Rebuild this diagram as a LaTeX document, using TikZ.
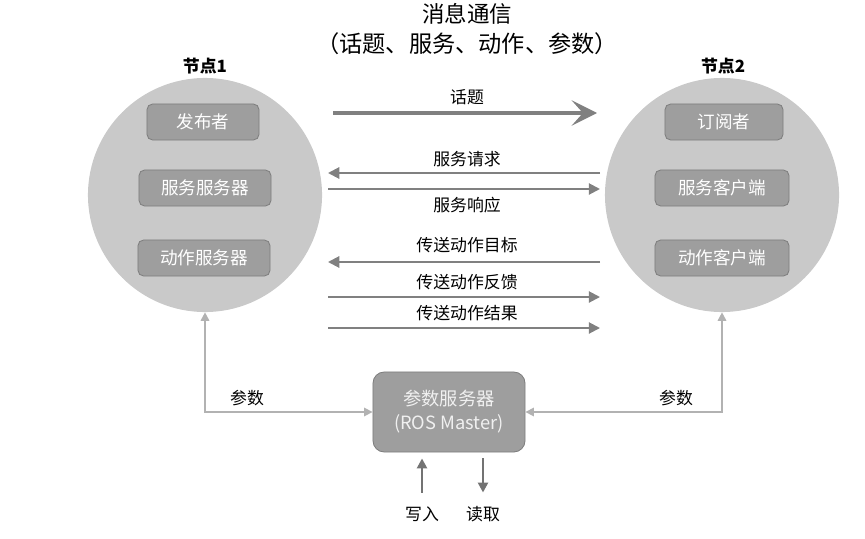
\documentclass[tikz,border=0pt]{standalone}
\usepackage{fontspec}
\setmainfont{Noto Sans CJK SC}
\usetikzlibrary{arrows.meta,positioning,calc}

\definecolor{nodefill}{HTML}{C9C9C9}
\definecolor{boxfill}{HTML}{9E9E9E}
\definecolor{boxline}{HTML}{7E7E7E}
\definecolor{msggray}{HTML}{808080}
\definecolor{paramgray}{HTML}{B2B2B2}
\definecolor{rwgray}{HTML}{737373}

\tikzset{
  rosnode/.style={circle, fill=nodefill, minimum size=5.85cm, inner sep=0pt},
  innerbox/.style={draw=boxline, fill=boxfill, rounded corners=4pt, line width=0.6pt,
                   minimum height=0.9cm, minimum width=3.3cm, text=white,
                   font=\fontsize{12.5}{14}\selectfont},
  masterbox/.style={draw=boxline, fill=boxfill, rounded corners=8pt, line width=0.6pt,
                    minimum width=3.8cm, minimum height=2cm, align=center, text=white!94!black,
                    font=\fontsize{13}{17}\selectfont},
  lbl/.style={font=\fontsize{12}{14}\selectfont, inner sep=1pt},
  msg/.style={draw=msggray, line width=1.4pt, -{Triangle[length=8pt,width=8pt]}},
  topic/.style={draw=msggray, line width=3pt, -{Stealth[length=18pt,width=18pt,inset=8pt]}},
  param/.style={draw=paramgray, line width=1.2pt, {Triangle[length=6pt,width=6pt]}-{Triangle[length=6pt,width=6pt]}},
  rw/.style={draw=rwgray, line width=2pt, -{Triangle[length=7pt,width=7pt]}}
}

\begin{document}
\begin{tikzpicture}[x=0.025cm, y=-0.025cm]
  \useasboundingbox (0,0) rectangle (865,538);

  % Title
  \node (title) at (467,14) {\fontsize{16}{18}\selectfont 消息通信};
  \node (subtitle) at (467,44) {\fontsize{16.5}{18}\selectfont （话题、服务、动作、参数）};

  % The two nodes
  \node[rosnode] (n1) at (205,195) {};
  \node[rosnode] (n2) at (722,195) {};
  \node[font=\bfseries\fontsize{12}{14}\selectfont] (n1title) at (205,66) {节点1};
  \node[font=\bfseries\fontsize{12}{14}\selectfont] (n2title) at (723,66) {节点2};

  % Boxes inside node 1
  \node[innerbox, minimum width=2.8cm] (pub) at (203,122) {发布者};
  \node[innerbox] (srvserver) at (205,188) {服务服务器};
  \node[innerbox] (actserver) at (204,258) {动作服务器};

  % Boxes inside node 2
  \node[innerbox, minimum width=2.95cm] (sub) at (724,122) {订阅者};
  \node[innerbox, minimum width=3.35cm] (srvclient) at (722,188) {服务客户端};
  \node[innerbox, minimum width=3.35cm] (actclient) at (722,258) {动作客户端};

  % End points of the messages between the nodes
  \foreach \y/\n in {173/b,189/c,262/d,297/e,328/f} {
    \coordinate (l\n) at (328,\y);
    \coordinate (r\n) at (600,\y);
  }
  \coordinate (la) at (333,113);
  \coordinate (ra) at (597,113);

  % Topic
  \draw[topic] (la) -- (ra);
  \node[lbl] (topiclbl) at (467,97) {话题};

  % Service
  \draw[msg] (rb) -- (lb);
  \node[lbl] (reqlbl) at (467,159) {服务请求};
  \draw[msg] (lc) -- (rc);
  \node[lbl] (resplbl) at (467,205) {服务响应};

  % Action
  \draw[msg] (rd) -- (ld);
  \node[lbl] (goallbl) at (467,245) {传送动作目标};
  \draw[msg] (le) -- (re);
  \node[lbl] (fblbl) at (467,282) {传送动作反馈};
  \draw[msg] (lf) -- (rf);
  \node[lbl] (reslbl) at (467,313) {传送动作结果};

  % Parameter server
  \node[masterbox] (master) at (449,412) {参数服务器\\(ROS Master)};
  \draw[param] (master.west) -| (n1.south);
  \draw[param] (master.east) -| (n2.south);
  \node[lbl] (p1lbl) at (247,398) {参数};
  \node[lbl] (p2lbl) at (676,398) {参数};

  % Write and read
  \node[lbl] (write) at (422,514) {写入};
  \node[lbl] (read) at (483,514) {读取};
  \draw[rw, shorten <=0.3cm, shorten >=0.15cm] (write) -- (write |- master.south);
  \draw[rw, shorten <=0.15cm, shorten >=0.3cm] (read |- master.south) -- (read);
\end{tikzpicture}
\end{document}
